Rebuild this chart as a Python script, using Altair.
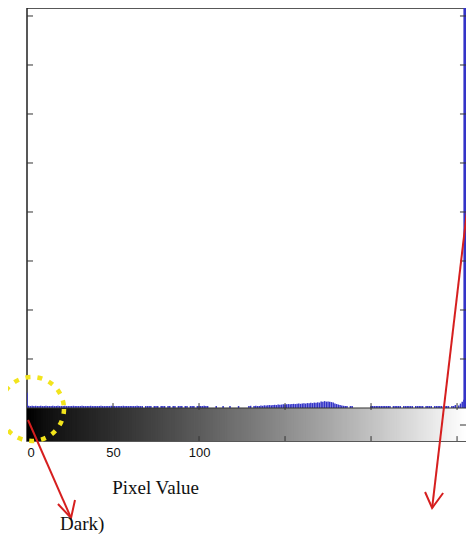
import altair as alt
import pandas as pd

# ---------------- data ----------------
counts = [
    310, 45, 40, 45, 40, 45, 40, 40, 45, 40, 40, 45, 40, 40, 40, 45,
    40, 40, 45, 40, 40, 40, 45, 40, 40, 40, 40, 45, 40, 40, 40, 40,
    45, 40, 40, 40, 40, 45, 40, 40, 40, 40, 40, 45, 40, 40, 40, 40,
    40, 45, 40, 40, 40, 40, 40, 40, 45, 40, 40, 40, 40, 40, 40, 40,
    45, 40, 40, 40, 0, 40, 40, 40, 40, 0, 40, 40, 40, 0, 40, 40,
    40, 0, 40, 40, 0, 40, 40, 0, 40, 40, 40, 0, 40, 40, 0, 40,
    40, 40, 0, 40, 40, 40, 40, 45, 40, 40, 0, 0, 0, 0, 40, 0,
    0, 0, 40, 0, 0, 0, 40, 0, 0, 0, 0, 40, 0, 0, 0, 0,
    0, 40, 45, 0, 40, 45, 40, 40, 50, 45, 55, 50, 55, 60, 55, 60,
    65, 60, 70, 65, 70, 75, 70, 75, 80, 75, 80, 85, 80, 85, 90, 85,
    90, 95, 90, 100, 95, 105, 100, 110, 105, 115, 110, 135, 125, 140, 130, 135,
    125, 120, 110, 90, 80, 70, 60, 50, 45, 40, 40, 0, 40, 40, 0, 0,
    0, 0, 0, 0, 0, 0, 0, 0, 40, 40, 40, 40, 40, 40, 40, 40,
    40, 40, 40, 40, 0, 40, 40, 40, 40, 40, 0, 40, 40, 40, 40, 40,
    40, 0, 40, 40, 40, 40, 40, 0, 40, 40, 40, 40, 0, 40, 40, 40,
    40, 40, 0, 40, 40, 40, 0, 40, 40, 60, 0, 50, 90, 130, 170, 9000,
]
pixel_values = list(range(256))
x_labels = [0, 50, 100]
x_tick_values = [50, 100, 150, 200, 250]
y_tick_values = [1000, 2000, 3000, 4000, 5000, 6000, 7000, 8000]

X_MAX = 255.2
Y_MIN, Y_MAX = -673.5, 8163.0

# annotation geometry (data units)
arrow_seg = ["a1", "a1", "h1", "h1", "h1", "a2", "a2", "h2", "h2", "h2"]
arrow_ord = [0, 1, 0, 1, 2, 0, 1, 0, 1, 2]
arrow_x = [0.6, 25.6, 18.0, 25.6, 27.9, 258.7, 235.5, 231.4, 235.5, 241.9]
arrow_y = [-245, -2245, -1959, -2245, -1878, 4898, -2041, -1714, -2041, -1735]
circle_x = [2.9]
circle_y = [-20]
note_text = ["Dark)"]
note_x = [19.2]
note_y = [-2490]

# ---------------- frames ----------------
hist_df = pd.DataFrame({
    "v": pixel_values, "c": counts, "z": 0,
    "w": [4.5 if v == 255 else 1.5 for v in pixel_values],
})
grad_df = pd.DataFrame({"v": pixel_values, "v2": [v + 1.6 for v in pixel_values],
                        "y0": Y_MIN, "y1": 0})
arrow_df = pd.DataFrame({"seg": arrow_seg, "o": arrow_ord, "x": arrow_x, "y": arrow_y})
circ_df = pd.DataFrame({"x": circle_x, "y": circle_y})
note_df = pd.DataFrame({"t": note_text, "x": note_x, "y": note_y})

hrules = pd.DataFrame(
    [{"x0": 0, "x1": X_MAX, "y": 0}]
    + [{"x0": 0, "x1": 3.5, "y": y} for y in y_tick_values]
    + [{"x0": X_MAX - 3.5, "x1": X_MAX, "y": y} for y in y_tick_values]
    + [{"x0": X_MAX - 3.5, "x1": X_MAX, "y": -347}]
)
vrules = pd.DataFrame(
    [{"x": x, "y0": Y_MIN, "y1": Y_MIN + 100} for x in x_tick_values]
    + [{"x": x, "y0": -40, "y1": 100} for x in x_tick_values]
)

xs = alt.Scale(domain=[0, X_MAX], nice=False, zero=False, padding=0)
ys = alt.Scale(domain=[Y_MIN, Y_MAX], nice=False, zero=False, padding=0)

x_axis = alt.Axis(
    values=x_labels, ticks=False, tickSize=0, grid=False, domain=False,
    labelPadding=5, labelFont="Liberation Sans", labelFontSize=13,
    labelColor="#111", title="Pixel Value", titleFont="Liberation Serif",
    titleFontSize=19, titleFontWeight="normal", titleColor="#111",
    titleX=128, titleY=52, titleAlign="center", titleBaseline="alphabetic",
)

gradient = alt.Chart(grad_df).mark_rect(clip=True).encode(
    x=alt.X("v:Q", scale=xs, axis=x_axis),
    x2="v2:Q",
    y=alt.Y("y0:Q", scale=ys, axis=None),
    y2="y1:Q",
    fill=alt.Fill("v:Q", scale=alt.Scale(domain=[0, 255], range=["#000000", "#ffffff"]), legend=None),
)

hist = alt.Chart(hist_df).mark_bar(clip=True, color="#3434c8").encode(
    x=alt.X("v:Q", scale=xs),
    y=alt.Y("c:Q", scale=ys, axis=None),
    y2="z:Q",
    size=alt.Size("w:Q", scale=None, legend=None),
)

hr = alt.Chart(hrules).mark_rule(color="#333", strokeWidth=1).encode(
    x=alt.X("x0:Q", scale=xs), x2="x1:Q", y=alt.Y("y:Q", scale=ys)
)
vr = alt.Chart(vrules).mark_rule(color="#333", strokeWidth=1).encode(
    x=alt.X("x:Q", scale=xs), y=alt.Y("y0:Q", scale=ys), y2="y1:Q"
)

circle = alt.Chart(circ_df).mark_point(
    shape="circle", filled=False, size=4096, color="#f2e41c",
    strokeWidth=4.5, strokeDash=[5, 7], opacity=1,
).encode(x=alt.X("x:Q", scale=xs), y=alt.Y("y:Q", scale=ys))

arrows = alt.Chart(arrow_df).mark_line(color="#d61f1f", strokeWidth=2).encode(
    x=alt.X("x:Q", scale=xs), y=alt.Y("y:Q", scale=ys), detail="seg:N", order="o:Q"
)

note = alt.Chart(note_df).mark_text(
    align="left", baseline="alphabetic", font="Liberation Serif", fontSize=19, color="#111"
).encode(x=alt.X("x:Q", scale=xs), y=alt.Y("y:Q", scale=ys), text="t:N")

chart = alt.layer(
    gradient, hist, hr, vr, circle, arrows, note,
).properties(
    width=439, height=433,
    autosize=alt.AutoSizeParams(type="none"),
    padding={"left": 19, "top": 0, "right": 0, "bottom": 95},
    background="white",
).configure_view(
    stroke="#222", strokeWidth=1.5
)

chart.save("out.html", embed_options={"renderer": "svg", "actions": False})
